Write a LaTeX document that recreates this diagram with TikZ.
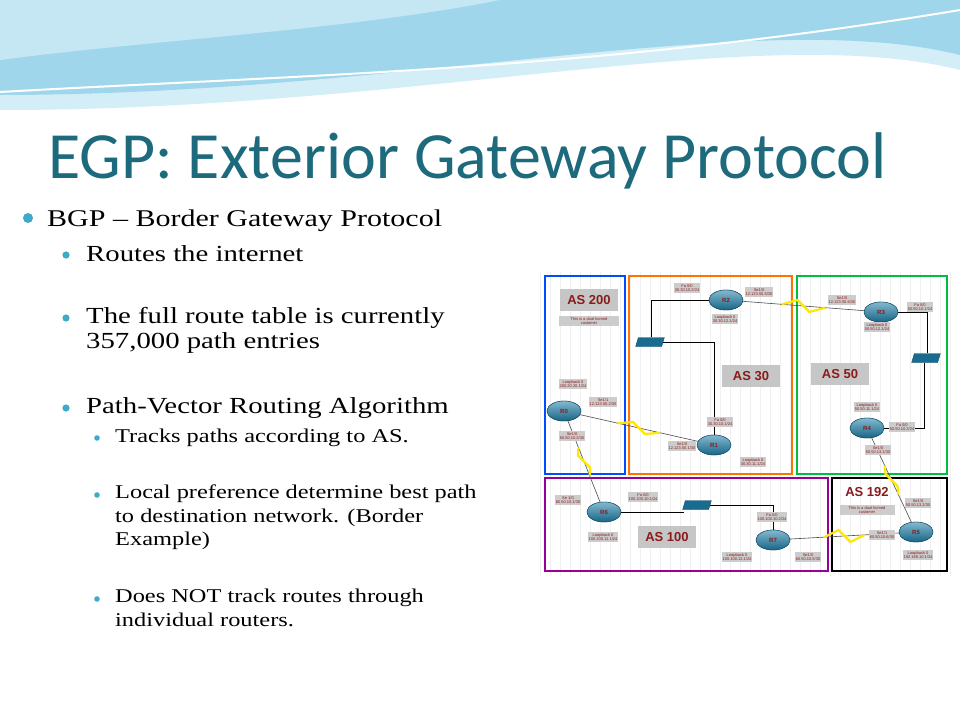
\documentclass[tikz,border=0pt]{standalone}
\usepackage{fontspec}
\setmainfont{Liberation Serif}[FakeStretch=1.25]
\newfontfamily\titlefont{Carlito}
\newfontfamily\labfont{Liberation Sans}
\usetikzlibrary{shapes.geometric,calc}
\definecolor{teal1}{HTML}{1C6A7C}
\definecolor{bullet}{HTML}{3FA9C8}
\definecolor{dred}{HTML}{8B1A1A}
\definecolor{rblue}{HTML}{1E7FA8}
\definecolor{wave1}{HTML}{9FD6EC}
\definecolor{wave2}{HTML}{D4EEF7}
\tikzset{
  lvlone/.style={anchor=west,font=\fontsize{24}{28}\selectfont,inner sep=0},
  lvltwo/.style={anchor=west,font=\fontsize{23}{25}\selectfont,inner sep=0,align=left},
  lvlthree/.style={anchor=west,font=\fontsize{19.5}{23.5}\selectfont,inner sep=0,align=left},
  asbox/.style={line width=1.6pt},
  aslabel/.style={fill=gray!45,text=dred,font=\labfont\bfseries\fontsize{13}{13}\selectfont,minimum width=58,minimum height=22,inner sep=1},
  ipl/.style={fill=gray!40,text=dred,font=\labfont\fontsize{4}{4.6}\selectfont,align=center,inner sep=1},
  router/.style={ellipse,draw=rblue!60!black,top color=rblue!55,bottom color=rblue!80!black,minimum width=34,minimum height=20,text=dred,font=\labfont\bfseries\fontsize{6}{6}\selectfont,inner sep=0},
  switchn/.style={draw=rblue!60!black,fill=rblue!85!black,minimum width=26,minimum height=9,inner sep=0},
  eth/.style={draw=black,line width=1pt},
  serial/.style={draw=yellow!90!orange,line width=2.2pt,line join=miter},
  serialb/.style={draw=black!70,line width=0.6pt},
}
\begin{document}
\begin{tikzpicture}[x=1pt,y=-1pt]
\useasboundingbox (0,0) rectangle (960,720);
\fill[white] (0,0) rectangle (960,720);
% waves
\fill[wave2] (0,0) -- (960,0) -- (960,70) .. controls (760,20) and (420,110) .. (0,110) -- cycle;
\fill[wave1] (0,0) -- (960,0) -- (960,55) .. controls (760,5) and (400,95) .. (0,95) -- cycle;
\draw[white,line width=2pt] (0,92) .. controls (300,75) and (600,70) .. (960,10);
\fill[wave1!60] (0,0) -- (500,0) .. controls (350,30) and (150,40) .. (0,60) -- cycle;
% title
\node[anchor=base west,inner sep=0,text=teal1,font=\titlefont\fontsize{66}{68}\selectfont] (title) at (48,178) {EGP: Exterior Gateway Protocol};
% bullets
\fill[bullet] (28,218) circle (5);
\node[lvlone] (b1) at (47,221) {BGP – Border Gateway Protocol};
\foreach \yy in {255,318,408} \fill[bullet] (66,\yy) circle (3.6);
\node[lvltwo] (b2) at (86,254) {Routes the internet};
\node[lvltwo,anchor=north west] (b3) at (86,307) {The full route table is currently\\357,000 path entries};
\node[lvltwo] (b4) at (86,408) {Path-Vector Routing Algorithm};
\foreach \yy in {438,495,599} \fill[bullet] (97,\yy) circle (2.8);
\node[lvlthree] (c1) at (115,438) {Tracks paths according to AS.};
\node[lvlthree,anchor=north west] (c2) at (115,485) {Local preference determine best path\\to destination network. (Border\\Example)};
\node[lvlthree,anchor=north west] (c3) at (115,589) {Does NOT track routes through\\individual routers.};
% diagram background grid
\fill[white] (540,272) rectangle (951,576);
\draw[gray!12,step=10] (540,272) grid (951,576);
% AS boxes
\draw[asbox,blue!70!cyan] (545,276) rectangle (625,474);
\draw[asbox,orange!90!red] (629,276) rectangle (792,474);
\draw[asbox,green!50!teal] (797,276) rectangle (947,474);
\draw[asbox,violet!80!magenta] (545,478) rectangle (828,571);
\draw[asbox,black] (832,478) rectangle (947,571);
% AS labels
\node[aslabel] (l200) at (589,300) {AS 200};
\node[ipl,minimum width=60] (d200) at (589,321) {This is a dual homed\\customer};
\node[aslabel] (l30) at (751,376) {AS 30};
\node[aslabel] (l50) at (840,374) {AS 50};
\node[aslabel] (l100) at (667,537) {AS 100};
\node[aslabel,fill=none] (l192) at (867,492) {AS 192};
\node[ipl,minimum width=55] (d192) at (867,510) {This is a dual homed\\customer};
% devices
\node[router] (R2) at (726,300) {R2};
\node[router] (R0) at (564,411) {R0};
\node[router] (R1) at (714,445) {R1};
\node[router] (R3) at (881,312) {R3};
\node[router] (R4) at (867,428) {R4};
\node[router] (R6) at (604,512) {R6};
\node[router] (R7) at (773,540) {R7};
\node[router] (R5) at (916,532) {R5};
\node[switchn,xslant=0.3] (S30) at (650,342) {};
\node[switchn,xslant=0.3] (S50) at (926,358) {};
\node[switchn,xslant=0.3] (S100) at (697,505) {};
% ethernet
\draw[eth] (S30.north) |- (R2.west);
\draw[eth] (S30.east) -| (R1.north);
\draw[eth] (R3.east) -| (S50.north);
\draw[eth] (S50.south) |- (R4.east);
\draw[eth] (R6.east) -- (R6.east -| S100.west);
\draw[eth] (S100.east) -| (R7.north);
% serial links
\foreach \a/\b in {R0/R1,R2/R3,R4/R5,R0/R6,R7/R5}{
  \draw[serialb] (\a) -- (\b);
  \draw[serial] ($(\a)!0.36!(\b)$) -- ($(\a)!0.5!(\b)+(-6,-6)$) -- ($(\a)!0.5!(\b)+(6,6)$) -- ($(\a)!0.64!(\b)$);
}
\node[router] at (R0) {R0};
\node[router] at (R1) {R1};
\node[router] at (R2) {R2};
\node[router] at (R3) {R3};
\node[router] at (R4) {R4};
\node[router] at (R5) {R5};
\node[router] at (R6) {R6};
\node[router] at (R7) {R7};
% IP labels
\node[ipl] (i1) at (687,288) {Fa 0/0\\30.30.10.2/24};
\node[ipl] (i2) at (759,292) {Se1/0\\12.123.50.5/30};
\node[ipl] (i3) at (725,319) {Loopback 0\\30.30.12.1/24};
\node[ipl] (i4) at (573,384) {Loopback 0\\200.20.20.1/24};
\node[ipl] (i5) at (603,402) {Se1/1\\12.123.50.2/30};
\node[ipl] (i6) at (572,436) {Se1/0\\60.50.10.2/30};
\node[ipl] (i7) at (720,422) {Fa 0/0\\30.30.10.1/24};
\node[ipl] (i8) at (682,446) {Se1/0\\12.123.50.1/30};
\node[ipl] (i9) at (753,462) {Loopback 0\\30.30.11.1/24};
\node[ipl] (i10) at (842,300) {Se1/0\\12.123.50.6/30};
\node[ipl] (i11) at (920,307) {Fa 0/0\\50.50.10.1/24};
\node[ipl] (i12) at (877,327) {Loopback 0\\50.50.12.1/24};
\node[ipl] (i13) at (867,407) {Loopback 0\\50.50.11.1/24};
\node[ipl] (i14) at (902,427) {Fa 0/0\\50.50.10.2/24};
\node[ipl] (i15) at (878,450) {Se1/0\\50.50.13.1/30};
\node[ipl] (i16) at (568,500) {Se 1/0\\60.50.10.1/30};
\node[ipl] (i17) at (643,497) {Fa 0/0\\100.100.10.1/24};
\node[ipl] (i18) at (603,537) {Loopback 0\\100.100.11.1/24};
\node[ipl] (i19) at (772,517) {Fa 0/0\\100.100.10.2/24};
\node[ipl] (i20) at (737,557) {Loopback 0\\100.100.12.1/24};
\node[ipl] (i21) at (808,557) {Se1/0\\60.50.10.5/30};
\node[ipl] (i22) at (918,503) {Se1/0\\50.50.13.2/30};
\node[ipl] (i23) at (882,535) {Se1/1\\60.50.10.6/30};
\node[ipl] (i24) at (918,555) {Loopback 0\\192.168.10.1/24};
\end{tikzpicture}
\end{document}
